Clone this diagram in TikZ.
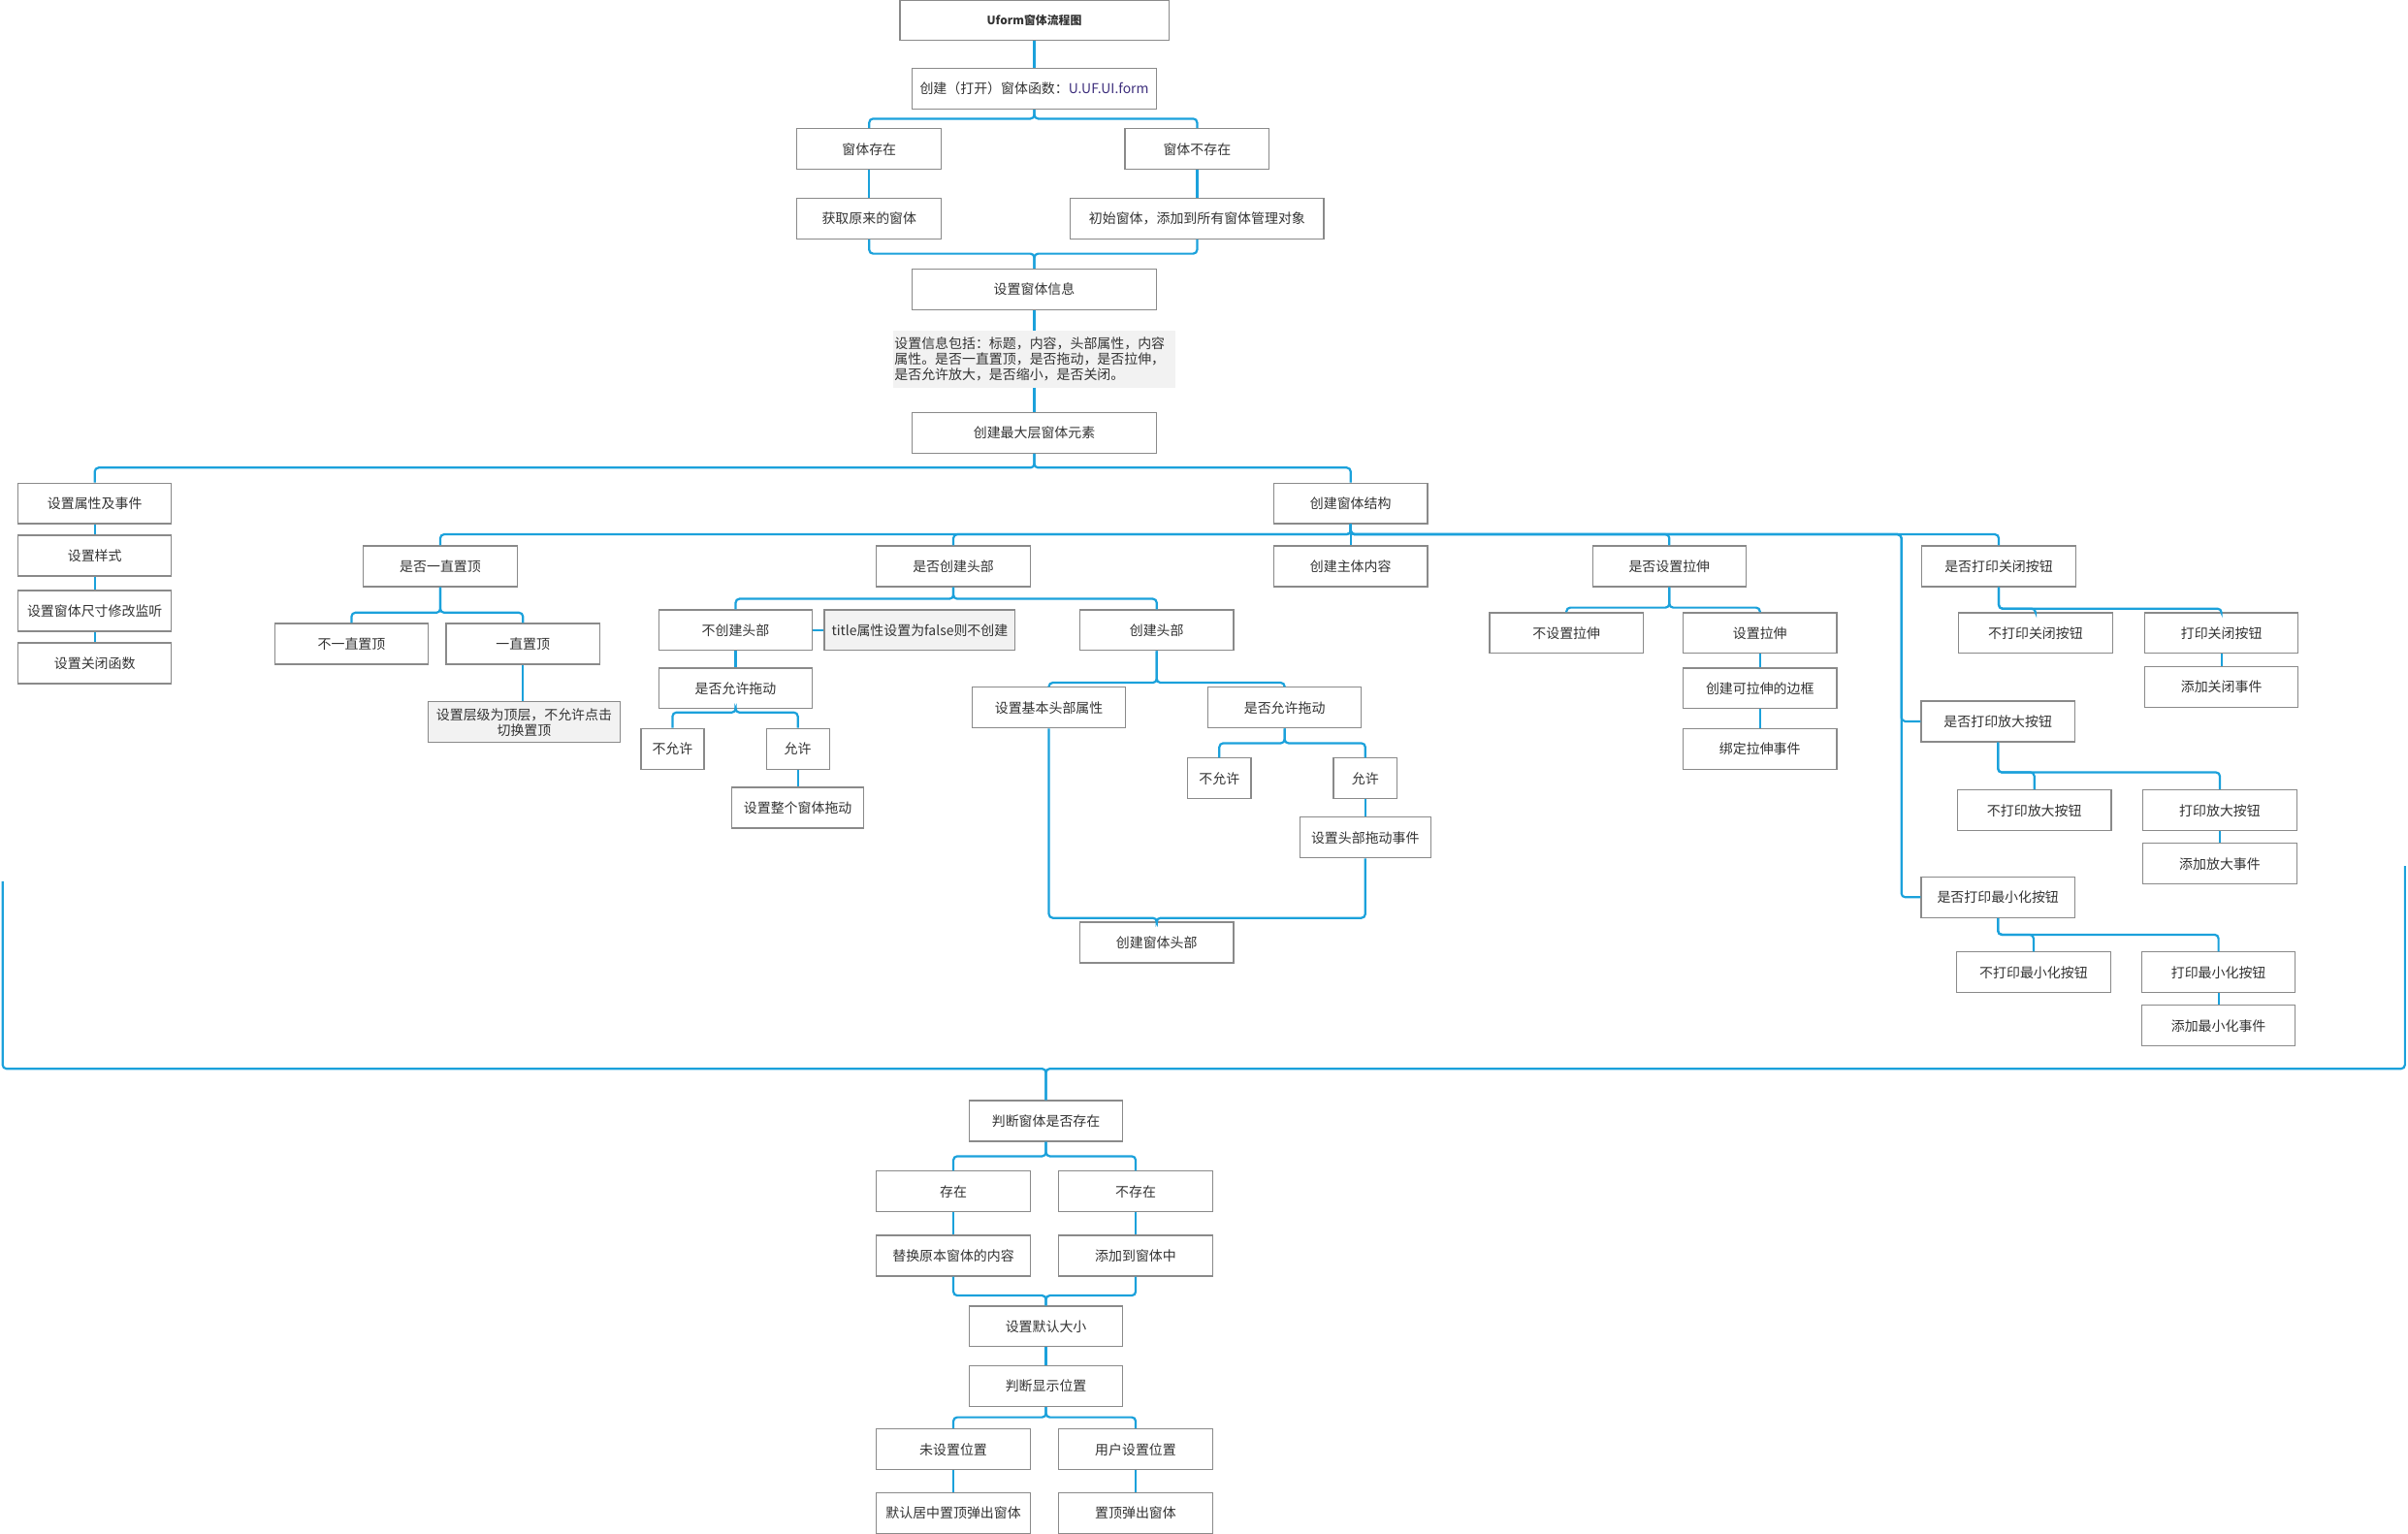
\documentclass[tikz,border=0pt]{standalone}
\usepackage{fontspec}
\setmainfont{Noto Sans CJK SC}
\usepackage{xcolor}
\usepackage{tikz}
\definecolor{linkblue}{HTML}{1BA1DB}
\definecolor{boxline}{HTML}{8A8A8A}
\definecolor{notegray}{HTML}{F2F2F2}
\definecolor{txt}{HTML}{333333}
\definecolor{funcname}{HTML}{3D2E7C}
\newcommand{\boxfont}{\fontsize{8.8pt}{10pt}\selectfont}

\tikzset{
  box/.style={draw=boxline, line width=0.75pt, fill=white, text=txt, font=\boxfont,
    minimum width=100pt, minimum height=26.5pt, inner sep=1pt, align=center},
  graybox/.style={box, fill=notegray},
  link/.style={color=linkblue, line width=1.4pt, rounded corners=2.5pt},
  fork/.style={to path={(\tikztostart.south) -- (\tikztostart.south |- 0,#1) -| (\tikztotarget.north)}},
  vlink/.style={to path={(\tikztostart.south) -- (\tikztostart.south |- \tikztotarget.north)}},
  hlink/.style={to path={(\tikztostart.east) -- (\tikztostart.east -| \tikztotarget.west)}},
  side/.style={to path={(\tikztostart.south) -- (\tikztostart.south |- 0,#1) -| ([xshift=-12.5pt]\tikztotarget.west) -- (\tikztotarget.west)}},
}

\begin{document}
\begin{tikzpicture}[x=1pt,y=-1pt]
		\useasboundingbox (0,0) rectangle (1568,999);
		% top part
		\node[box,minimum width=175pt,minimum height=25.5pt,font=\fontsize{7.5pt}{9pt}\selectfont\bfseries] (title) at (673.5,13.2) {Uform窗体流程图};
		\node[box,minimum width=159pt] (create) at (673.5,57.8) {创建（打开）窗体函数：\textcolor{funcname}{U.UF.UI.form}};
		\node[box,minimum width=94pt] (winExist) at (566,97.1) {窗体存在};
		\node[box,minimum width=94pt] (winNone) at (779.5,97.1) {窗体不存在};
		\node[box,minimum width=94pt] (getOrig) at (566,142.3) {获取原来的窗体};
		\node[box,minimum width=165pt] (initWin) at (779.5,142.3) {初始窗体，添加到所有窗体管理对象};
		\node[box,minimum width=159pt] (setInfo) at (673.5,188.4) {设置窗体信息};
		\node[fill=notegray,text=txt,font=\boxfont,minimum width=184pt,minimum height=37pt,
			text width=182pt,align=left,inner sep=1pt] (infoNote) at (673.5,233.8)
			{设置信息包括：标题，内容，头部属性，内容\\属性。是否一直置顶，是否拖动，是否拉伸，\\是否允许放大，是否缩小，是否关闭。};
		\node[box,minimum width=159pt] (maxLayer) at (673.5,281.9) {创建最大层窗体元素};
		%
		\node[box] (setAttr) at (61.7,327.8) {设置属性及事件};
		\node[box] (setStyle) at (61.7,361.8) {设置样式};
		\node[box] (setSize) at (61.7,397.8) {设置窗体尺寸修改监听};
		\node[box] (setClose) at (61.7,431.9) {设置关闭函数};
		\node[box] (mkStruct) at (879.5,327.8) {创建窗体结构};
		%
		\node[box] (askTop) at (286.7,368.8) {是否一直置顶};
		\node[box] (askHead) at (620.8,368.8) {是否创建头部};
		\node[box] (mkBody) at (879.5,368.8) {创建主体内容};
		\node[box] (askStretch) at (1087,368.8) {是否设置拉伸};
		\node[box] (askClose) at (1301.5,368.8) {是否打印关闭按钮};
		%
		\node[box] (notTop) at (228.9,419.3) {不一直置顶};
		\node[box] (isTop) at (340.5,419.3) {一直置顶};
		\node[graybox,minimum width=124.7pt] (topNote) at (341.3,470.3) {设置层级为顶层，不允许点击\\切换置顶};
		%
		\node[box] (noHead) at (479,410.4) {不创建头部};
		\node[graybox,minimum width=124.2pt] (titleNote) at (598.9,410.4) {title属性设置为false则不创建};
		\node[box] (mkHead) at (753.2,410.4) {创建头部};
		\node[box] (dragL) at (479,448.3) {是否允许拖动};
		\node[box,minimum width=41pt] (denyL) at (437.9,487.6) {不允许};
		\node[box,minimum width=41pt] (allowL) at (519.5,487.6) {允许};
		\node[box,minimum width=85.8pt] (wholeDrag) at (519.5,526) {设置整个窗体拖动};
		\node[box] (basicAttr) at (683,460.9) {设置基本头部属性};
		\node[box] (dragR) at (836.5,460.9) {是否允许拖动};
		\node[box,minimum width=41.2pt] (denyR) at (794,507) {不允许};
		\node[box,minimum width=41.3pt] (allowR) at (889,507) {允许};
		\node[box,minimum width=85pt] (headDrag) at (889,545.5) {设置头部拖动事件};
		\node[box] (winHead) at (753.2,613.8) {创建窗体头部};
		%
		\node[box] (noStretch) at (1020,412.3) {不设置拉伸};
		\node[box] (yesStretch) at (1146,412.3) {设置拉伸};
		\node[box] (mkBorder) at (1146,448.3) {创建可拉伸的边框};
		\node[box] (bindStretch) at (1146,487.6) {绑定拉伸事件};
		%
		\node[box] (noClose) at (1325.5,412.3) {不打印关闭按钮};
		\node[box] (yesClose) at (1446.5,412.3) {打印关闭按钮};
		\node[box] (addClose) at (1446.5,447.2) {添加关闭事件};
		\node[box] (askMax) at (1301,469.8) {是否打印放大按钮};
		\node[box] (noMax) at (1324.7,527.8) {不打印放大按钮};
		\node[box] (yesMax) at (1445.5,527.8) {打印放大按钮};
		\node[box] (addMax) at (1445.5,562.5) {添加放大事件};
		\node[box] (askMin) at (1301,584.3) {是否打印最小化按钮};
		\node[box] (noMin) at (1324.2,633.3) {不打印最小化按钮};
		\node[box] (yesMin) at (1444.6,633.3) {打印最小化按钮};
		\node[box] (addMin) at (1444.6,668) {添加最小化事件};
		%
		\coordinate (lEnd) at (1.7,574);
		\coordinate (rEnd) at (1566,564);
		% bottom part
		\node[box] (judge) at (681.1,730) {判断窗体是否存在};
		\node[box] (hasWin) at (620.8,776) {存在};
		\node[box] (noWin) at (739.5,776) {不存在};
		\node[box] (replace) at (620.8,817.8) {替换原本窗体的内容};
		\node[box] (addTo) at (739.5,817.8) {添加到窗体中};
		\node[box] (defSize) at (681.1,863.8) {设置默认大小};
		\node[box] (judgePos) at (681.1,902.8) {判断显示位置};
		\node[box] (unsetPos) at (620.8,943.9) {未设置位置};
		\node[box] (userPos) at (739.5,943.9) {用户设置位置};
		\node[box] (centerPop) at (620.8,985.5) {默认居中置顶弹出窗体};
		\node[box] (topPop) at (739.5,985.5) {置顶弹出窗体};
		%
		\path[link]
		(title) edge[vlink] (create)
		(create) edge[fork=77.3] (winExist)
		(create) edge[fork=77.3] (winNone)
		(winExist) edge[vlink] (getOrig)
		(winNone) edge[vlink] (initWin)
		(getOrig) edge[fork=165.2] (setInfo)
		(initWin) edge[fork=165.2] (setInfo)
		(setInfo) edge[vlink] (infoNote)
		(infoNote) edge[vlink] (maxLayer)
		(maxLayer) edge[fork=304.6] (setAttr)
		(maxLayer) edge[fork=304.6] (mkStruct)
		(setAttr) edge[vlink] (setStyle)
		(setStyle) edge[vlink] (setSize)
		(setSize) edge[vlink] (setClose);
		%
		\path[link]
		(mkStruct) edge[fork=348] (askTop)
		(mkStruct) edge[fork=348] (askHead)
		(mkStruct) edge[vlink] (mkBody)
		(mkStruct) edge[fork=348] (askStretch)
		(mkStruct) edge[fork=348] (askClose)
		(mkStruct) edge[side=348] (askMax)
		(mkStruct) edge[side=348] (askMin)
		(askTop) edge[fork=399] (notTop)
		(askTop) edge[fork=399] (isTop)
		(isTop) edge[vlink] (topNote)
		(askHead) edge[fork=390] (noHead)
		(askHead) edge[fork=390] (mkHead)
		(noHead) edge[hlink] (titleNote)
		(noHead) edge[vlink] (dragL)
		(dragL) edge[fork=464] (denyL)
		(dragL) edge[fork=464] (allowL)
		(allowL) edge[vlink] (wholeDrag)
		(mkHead) edge[fork=444.6] (basicAttr)
		(mkHead) edge[fork=444.6] (dragR)
		(dragR) edge[fork=484] (denyR)
		(dragR) edge[fork=484] (allowR)
		(allowR) edge[vlink] (headDrag)
		(basicAttr) edge[fork=597.8] (winHead)
		(headDrag) edge[fork=597.8] (winHead);
		%
		\path[link]
		(askStretch) edge[fork=395.7] (noStretch)
		(askStretch) edge[fork=395.7] (yesStretch)
		(yesStretch) edge[vlink] (mkBorder)
		(mkBorder) edge[vlink] (bindStretch)
		(askClose) edge[fork=396.4] (noClose)
		(askClose) edge[fork=396.4] (yesClose)
		(yesClose) edge[vlink] (addClose)
		(askMax) edge[fork=503] (noMax)
		(askMax) edge[fork=503] (yesMax)
		(yesMax) edge[vlink] (addMax)
		(askMin) edge[fork=608.7] (noMin)
		(askMin) edge[fork=608.7] (yesMin)
		(yesMin) edge[vlink] (addMin);
		%
		\draw[link] (lEnd) -- (lEnd |- 0,696) -| (judge.north);
		\draw[link] (rEnd) -- (rEnd |- 0,696) -| (judge.north);
		%
		\path[link]
		(judge) edge[fork=753] (hasWin)
		(judge) edge[fork=753] (noWin)
		(hasWin) edge[vlink] (replace)
		(noWin) edge[vlink] (addTo)
		(replace) edge[fork=843.7] (defSize)
		(addTo) edge[fork=843.7] (defSize)
		(defSize) edge[vlink] (judgePos)
		(judgePos) edge[fork=923] (unsetPos)
		(judgePos) edge[fork=923] (userPos)
		(unsetPos) edge[vlink] (centerPop)
		(userPos) edge[vlink] (topPop);
\end{tikzpicture}
\end{document}
